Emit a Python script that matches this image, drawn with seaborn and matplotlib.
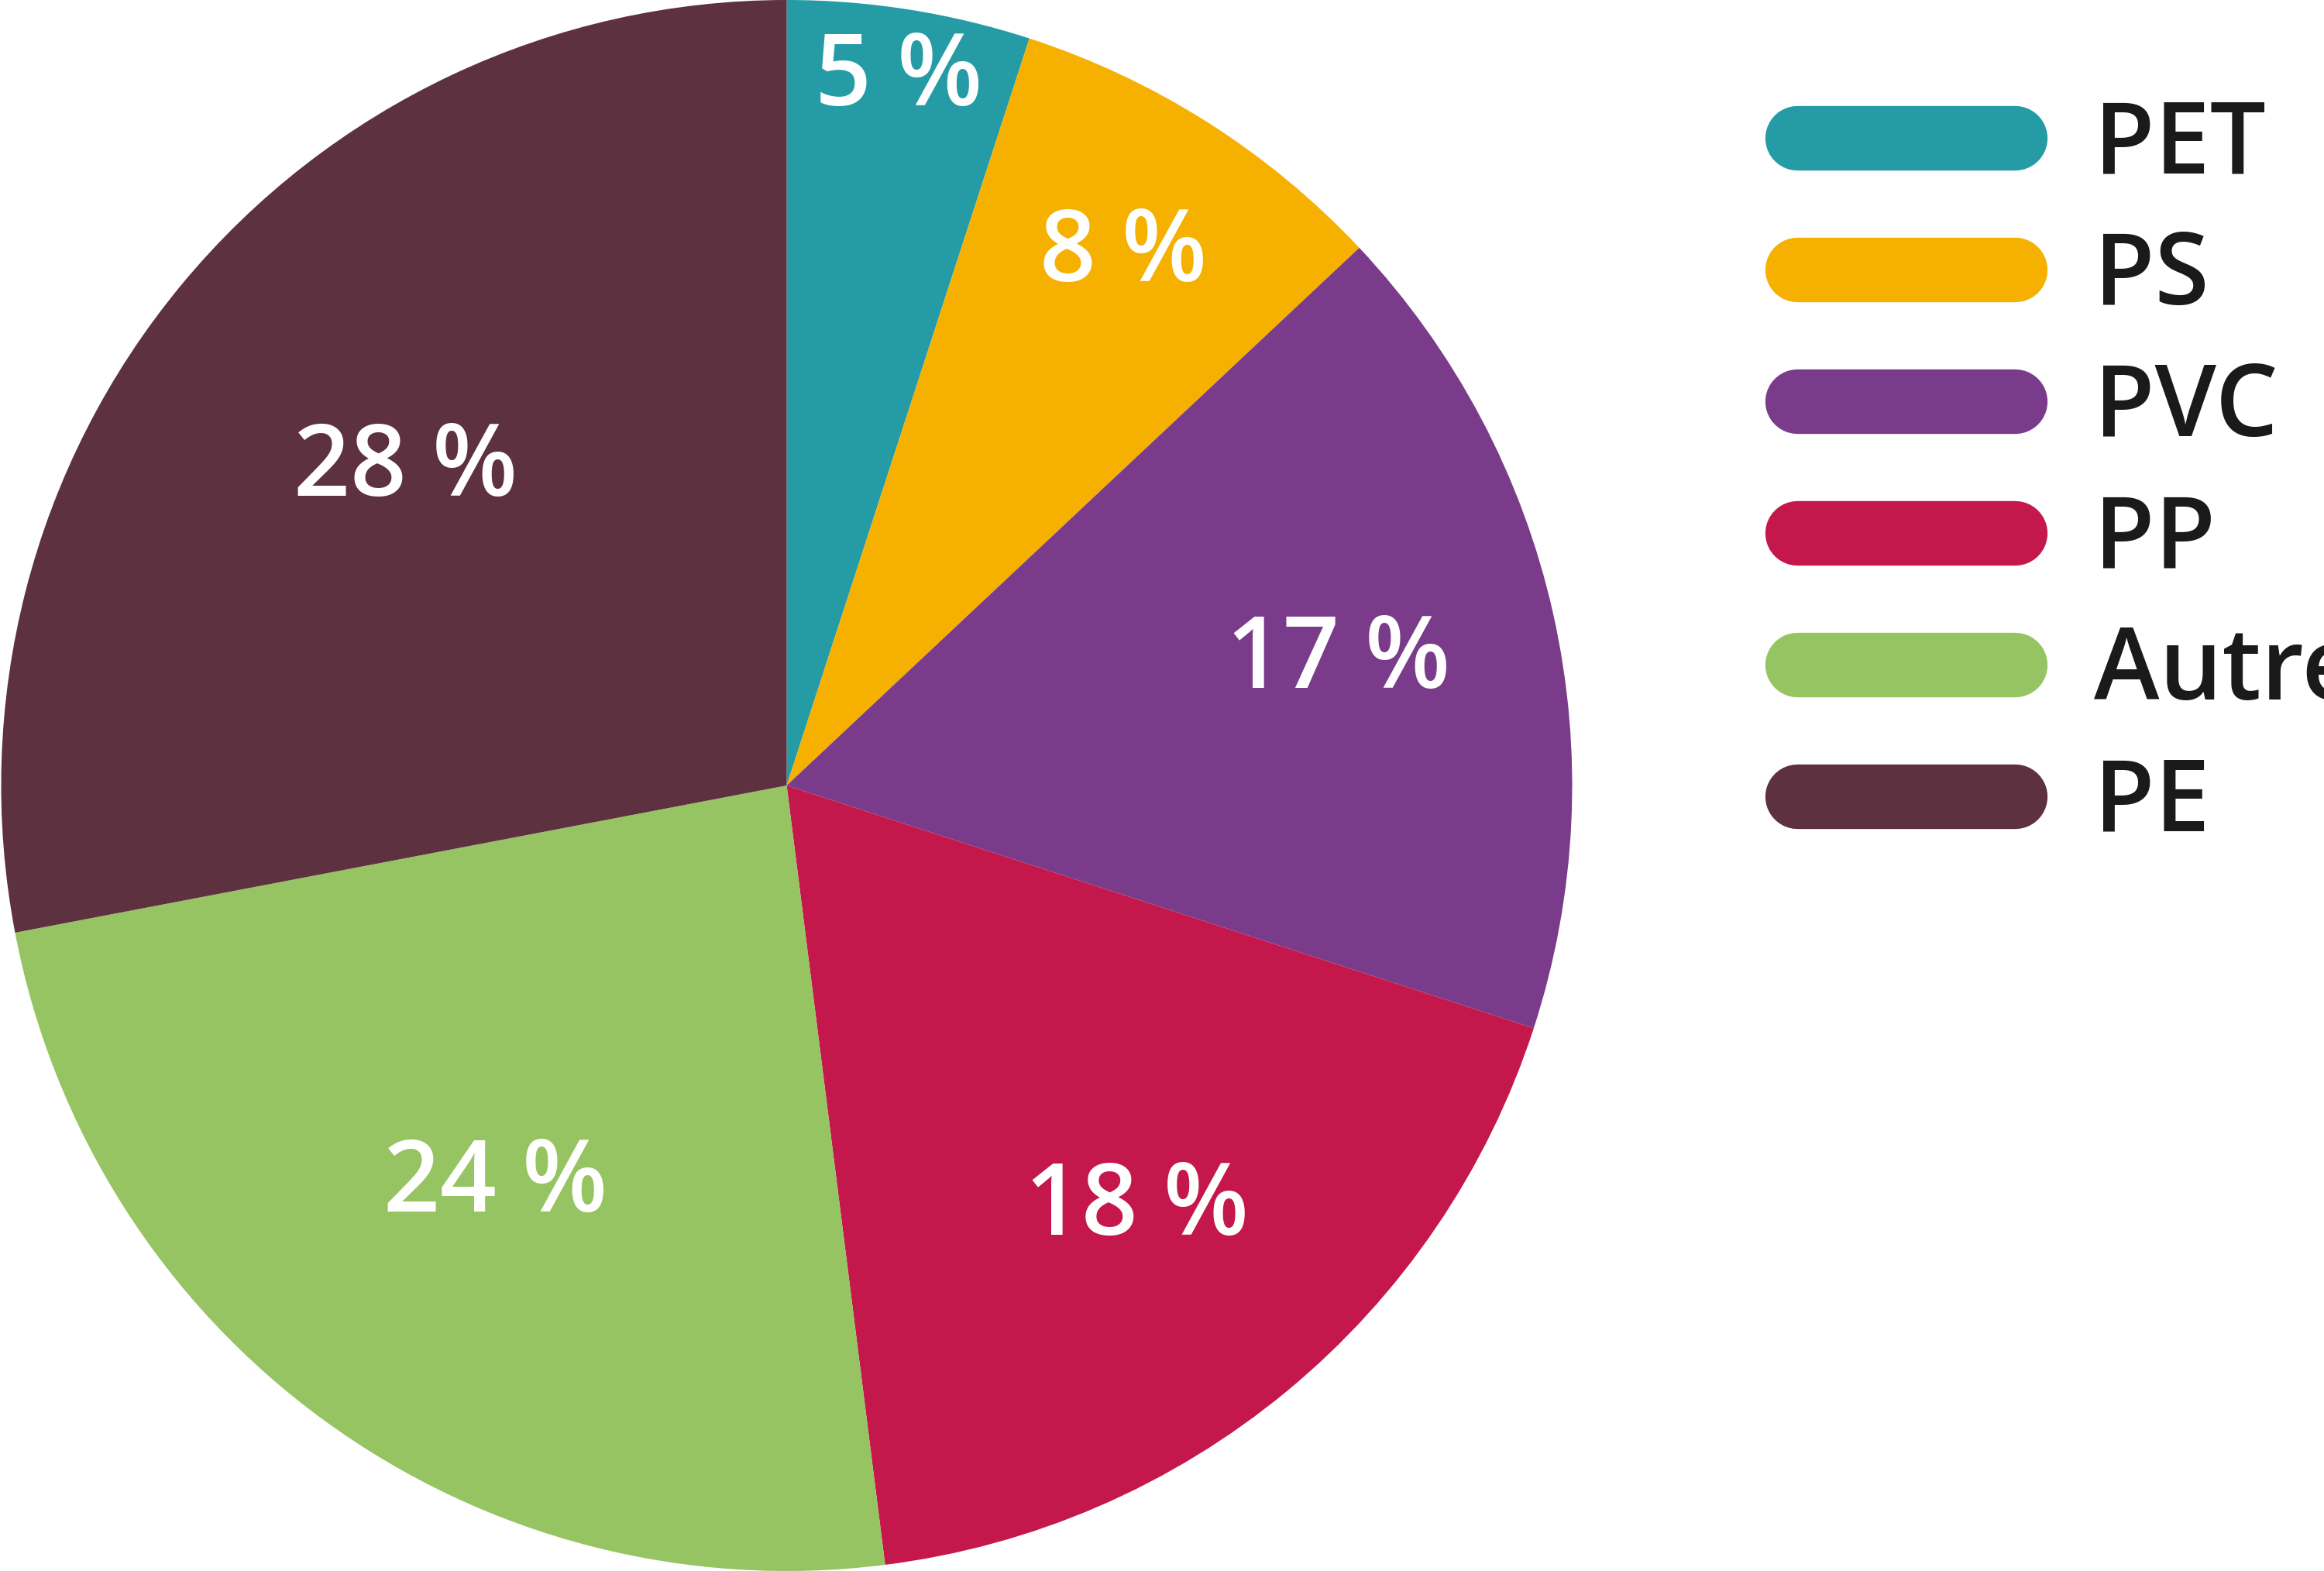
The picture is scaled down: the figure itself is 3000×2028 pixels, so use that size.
import matplotlib
matplotlib.use("Agg")
import matplotlib.pyplot as plt
from matplotlib.lines import Line2D
import numpy as np
import seaborn as sns

categories = ["PET", "PS", "PVC", "PP", "Autres", "PE"]
values = [5, 8, 17, 18, 24, 28]
colors = ["#259ca5", "#f6b100", "#7a3c8a", "#c4184c", "#97c462", "#5e3140"]
label_radius = [0.91, 0.80, 0.72, 0.70, 0.63, 0.63]

sns.set_style("white")
plt.rcParams['font.family'] = ['Open Sans', 'DejaVu Sans']

fig = plt.figure(figsize=(15, 10.14), dpi=200)
ax = fig.add_axes([0.0, 0.0, 0.677, 1.0])
wedges, _ = ax.pie(values, colors=colors, startangle=90, counterclock=False,
                   radius=1.0, wedgeprops=dict(linewidth=0))
ax.set_xlim(-1.0, 1.0)
ax.set_ylim(-1.0, 1.0)
ax.set_aspect("equal")

cum = np.cumsum([0] + values)
for i, v in enumerate(values):
    mid = 90 - (cum[i] + v / 2) / sum(values) * 360
    r = label_radius[i]
    ax.text(r * np.cos(np.radians(mid)), r * np.sin(np.radians(mid)), f"{v} %",
            color="white", fontsize=46, ha="center", va="center", fontweight="semibold")

handles = [Line2D([0], [0], color=c, lw=30, solid_capstyle="round") for c in colors]
leg = fig.legend(handles, categories, loc="upper left", bbox_to_anchor=(0.735, 0.995),
                 frameon=False, fontsize=46, handlelength=2.2, labelspacing=0.32,
                 handletextpad=0.8)
for t in leg.get_texts():
    t.set_color("#1a1a1a")
    t.set_fontweight("semibold")

fig.savefig("out.png", dpi=200, facecolor="white")
